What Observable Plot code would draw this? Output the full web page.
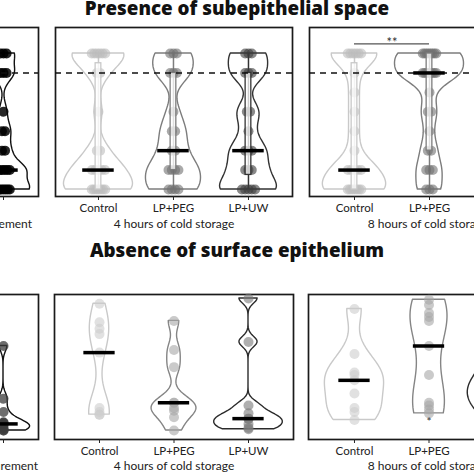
<!DOCTYPE html>
<html><head><meta charset="utf-8">
<script src="https://cdn.jsdelivr.net/npm/d3@7"></script>
<script src="https://cdn.jsdelivr.net/npm/@observablehq/plot@0.6"></script>
<style>
html,body{margin:0;padding:0;background:#fff;}
#root{position:relative;width:474px;height:474px;overflow:hidden;background:#fff;font-family:Lato,"Open Sans",sans-serif;}
.title{position:absolute;left:0;width:474px;text-align:center;font-family:"Open Sans",sans-serif;font-weight:800;font-size:18.8px;line-height:20px;color:#111;white-space:nowrap;}
.glabel{position:absolute;font-size:12px;line-height:16px;color:#222;white-space:nowrap;}
.panel{position:absolute;}
.panel svg{max-width:none !important;}
</style></head><body><div id="root"></div>
<script>
// ---------- data ----------
const treatments = ["Control", "LP+PEG", "LP+UW"];
const groupLabels = ["Baseline measurement", "4 hours of cold storage", "8 hours of cold storage"];
const titles = ["Presence of subepithelial space", "Absence of surface epithelium"];

// Presence of subepithelial space (score levels)
const subBaseline = [0,0,0,0,0,0,0, 1,1,1,1,1,1, 2,2, 3,3, 4, 6,6,6, 7,7,7];
const sub4hControl = [0,0,0,0,0,0,0, 1,1,1,1,1, 2,2, 4, 6,6, 7,7,7,7,7,7];
const sub4hPEG = [0,0,0,0, 1,1,1,1, 2,2, 3,3, 4, 6,6,6, 7,7,7];
const sub4hUW = [0,0,0,0,0, 1,1,1, 2,2,2, 3, 4,4, 6,6,6, 7,7,7];
const sub8hControl = [0,0,0,0,0,0,0, 1,1,1,1,1, 2, 3, 4, 5, 6, 7,7,7,7,7,7];
const sub8hPEG = [0,0,0, 1,1,1, 2,2, 3, 4,4, 5, 6,6,6,6,6,6,6,6, 7,7,7,7,7,7,7,7];
const sub8hUW = [0,0,0, 1,1,1,1, 2,2,2, 3,3, 4,4, 5, 6,6, 7,7,7];
const subThreshold = [6];

// Absence of surface epithelium (%)
const absBaseline = [64, 24, 14, 6, 6, 5, 4, 2, 1, 0, 0];
const abs4hControl = [96, 82, 77, 73, 59, 17, 14, 12, 12];
const abs4hPEG = [83, 61, 48, 21, 21, 17, 15, 10, 0];
const abs4hUW = [100, 67, 19, 13, 9, 9, 5, 2, 1];
const abs8hControl = [92, 58, 44, 42, 38, 28, 17, 14, 8];
const abs8hPEG = [99, 95, 89, 86, 83, 64, 42, 21, 19, 16, 13];
const abs8hUW = [72, 55, 44, 38, 33, 29, 26, 22, 15, 9];

// KDE bandwidths (value units)
const bwSub = {baseline: [0.45], h4: [0.6, 0.6, 0.55], h8: [0.6, 0.55, 0.6]};
const bwAbs = {baseline: [4.5], h4: [14, 7, 4], h8: [12, 20, 13]};

// significance marks
const sigTop = [{a: 0, b: 1, label: "**"}];
const sigBottom = [{i: 1, label: "*"}];

// ---------- styles ----------
const topStroke = ["#c9c9c9", "#7d7d7d", "#333333"], topFill = ["#bcbcbc", "#707070", "#3a3a3a"];
const botStroke = ["#c9c9c9", "#858585", "#2b2b2b"], botFill = ["#cdcdcd", "#a6a6a6", "#7a7a7a"];
const baseStroke = ["#111111"], baseFillTop = ["#000000"], baseFillBot = ["#3c3c3c"];

// ---------- helpers ----------
function kde(vals, bw, steps = 80) {
  const lo = d3.min(vals), hi = d3.max(vals), out = [];
  for (let k = 0; k <= steps; k++) {
    const y = lo + (hi - lo) * k / steps;
    const d = d3.sum(vals, v => Math.exp(-0.5 * ((y - v) / bw) ** 2)) / (vals.length * bw * Math.sqrt(2 * Math.PI));
    out.push({y, d});
  }
  return out;
}

function makePanel(o) {
  const {series, bws, strokes, fills, xDomain, yDomain, frame, spread, box, labels, halfMax, dashed, sigPair, sigStar, dotOpacity = 0.6} = o;
  const kdes = series.map((s, i) => kde(s, bws[i]));
  const maxD = d3.max(kdes.flat(), d => d.d);
  const vRows = kdes.flatMap((k, i) => k.map(p => ({i, y: p.y, w: p.d / maxD * halfMax})));
  const pts = series.flatMap((s, i) => {
    const byV = d3.group(s, v => v);
    const rows = [];
    for (const [v, arr] of byV) {
      const k = arr.length;
      const half = spread ? Math.min(0.09, 0.022 * (k - 1)) : 0;
      arr.forEach((_, j) => rows.push({i, v, off: k > 1 ? -half + 2 * half * j / (k - 1) : 0}));
    }
    return rows;
  });
  const stats = series.map((s, i) => ({i, med: d3.median(s), q1: d3.quantile(s, 0.25), q3: d3.quantile(s, 0.75), lo: d3.min(s), hi: d3.max(s)}));
  const marks = [
    Plot.frame({stroke: "#1a1a1a", strokeWidth: 1.7}),
    Plot.areaX(vRows, {y: "y", x1: d => d.i - d.w, x2: d => d.i + d.w, z: "i", fill: "white", stroke: d => strokes[d.i], strokeWidth: 1.4}),
  ];
  if (box) marks.push(Plot.ruleX(stats, {x: "i", y1: "lo", y2: "hi", stroke: d => strokes[d.i], strokeWidth: 1.5}));
  marks.push(Plot.dot(pts, {x: d => d.i + d.off, y: "v", r: 5, fill: d => fills[d.i], fillOpacity: dotOpacity, stroke: "none"}));
  if (box) marks.push(Plot.rect(stats, {x1: d => d.i - 0.038, x2: d => d.i + 0.038, y1: "q1", y2: "q3", fill: "white", fillOpacity: 0.75, stroke: d => strokes[d.i], strokeWidth: 1.3}));
  if (dashed) marks.push(Plot.ruleY(dashed, {stroke: "#111", strokeWidth: 1.5, strokeDasharray: "6,5"}));
  marks.push(Plot.ruleY(stats, {y: "med", x1: d => d.i - 0.21, x2: d => d.i + 0.21, stroke: "#000", strokeWidth: 3.5}));
  if (sigPair) {
    const yy = d => d3.max([...series[d.a], ...series[d.b]]) + 0.5;
    marks.push(Plot.ruleY(sigPair, {y: yy, x1: "a", x2: "b", stroke: "#555", strokeWidth: 1.2}));
    marks.push(Plot.text(sigPair, {x: d => (d.a + d.b) / 2, y: yy, text: "label", dy: -1, fontSize: 13, fill: "#333"}));
  }
  if (sigStar) marks.push(Plot.text(sigStar, {x: "i", y: d => d3.min(series[d.i]) - 7, text: "label", fontSize: 12, fill: "#333"}));
  marks.push(Plot.axisX({ticks: d3.range(series.length), tickFormat: i => labels[i] ?? "", tickSize: 4, tickPadding: 3, label: null, fontSize: 11.5}));

  const W = frame.w + 2;
  const chart = Plot.plot({
    width: W, height: frame.h + 2 + 24,
    marginLeft: 1, marginRight: 1, marginTop: 1, marginBottom: 25,
    x: {type: "linear", domain: xDomain, axis: null},
    y: {domain: yDomain, axis: null},
    style: {fontFamily: "Lato, 'Open Sans', sans-serif", color: "#222", background: "transparent", overflow: "visible", maxWidth: "none"},
    marks
  });
  const div = document.createElement("div");
  div.className = "panel";
  div.style.left = (frame.x - 1) + "px";
  div.style.top = (frame.y - 1) + "px";
  div.style.width = W + "px";
  div.appendChild(chart);
  document.getElementById("root").appendChild(div);
}

function addText(cls, text, css) {
  const d = document.createElement("div");
  d.className = cls; d.textContent = text;
  Object.assign(d.style, css);
  document.getElementById("root").appendChild(d);
}

// ---------- layout ----------
const topY = [-0.36, 8.34], botY = [-6.8, 103];

addText("title", titles[0], {top: "-2px"});
makePanel({series: [subBaseline], bws: bwSub.baseline, strokes: baseStroke, fills: baseFillTop, xDomain: [-0.5, 0.5], yDomain: topY,
  frame: {x: -32, y: 27, w: 70, h: 169}, spread: true, box: false, labels: [""], halfMax: 0.38, dashed: subThreshold, dotOpacity: 0.85});
makePanel({series: [sub4hControl, sub4hPEG, sub4hUW], bws: bwSub.h4, strokes: topStroke, fills: topFill, xDomain: [-0.573, 2.587], yDomain: topY,
  frame: {x: 55, y: 27, w: 237, h: 169}, spread: true, box: true, labels: treatments, halfMax: 0.46, dashed: subThreshold});
makePanel({series: [sub8hControl, sub8hPEG, sub8hUW], bws: bwSub.h8, strokes: topStroke, fills: topFill, xDomain: [-0.6, 2.56], yDomain: topY,
  frame: {x: 309, y: 27, w: 237, h: 169}, spread: true, box: true, labels: treatments, halfMax: 0.46, dashed: subThreshold, sigPair: sigTop});
addText("glabel", groupLabels[0], {top: "216px", right: (474 - 32) + "px"});
addText("glabel", groupLabels[1], {top: "216px", left: "174px", transform: "translateX(-50%)"});
addText("glabel", groupLabels[2], {top: "216px", left: "428px", transform: "translateX(-50%)"});

addText("title", titles[1], {top: "240px"});
makePanel({series: [absBaseline], bws: bwAbs.baseline, strokes: baseStroke, fills: baseFillBot, xDomain: [-0.5, 0.5], yDomain: botY,
  frame: {x: -32, y: 294, w: 70, h: 145}, spread: false, box: false, labels: [""], halfMax: 0.38, dotOpacity: 0.75});
makePanel({series: [abs4hControl, abs4hPEG, abs4hUW], bws: bwAbs.h4, strokes: botStroke, fills: botFill, xDomain: [-0.604, 2.604], yDomain: botY,
  frame: {x: 54, y: 294, w: 239, h: 145}, spread: false, box: false, labels: treatments, halfMax: 0.46});
makePanel({series: [abs8hControl, abs8hPEG, abs8hUW], bws: bwAbs.h8, strokes: botStroke, fills: botFill, xDomain: [-0.617, 2.59], yDomain: botY,
  frame: {x: 308, y: 294, w: 239, h: 145}, spread: false, box: false, labels: treatments, halfMax: 0.48, sigStar: sigBottom});
addText("glabel", groupLabels[0], {top: "458px", right: (474 - 38) + "px"});
addText("glabel", groupLabels[1], {top: "458px", left: "174px", transform: "translateX(-50%)"});
addText("glabel", groupLabels[2], {top: "458px", left: "428px", transform: "translateX(-50%)"});
</script>
</body></html>
